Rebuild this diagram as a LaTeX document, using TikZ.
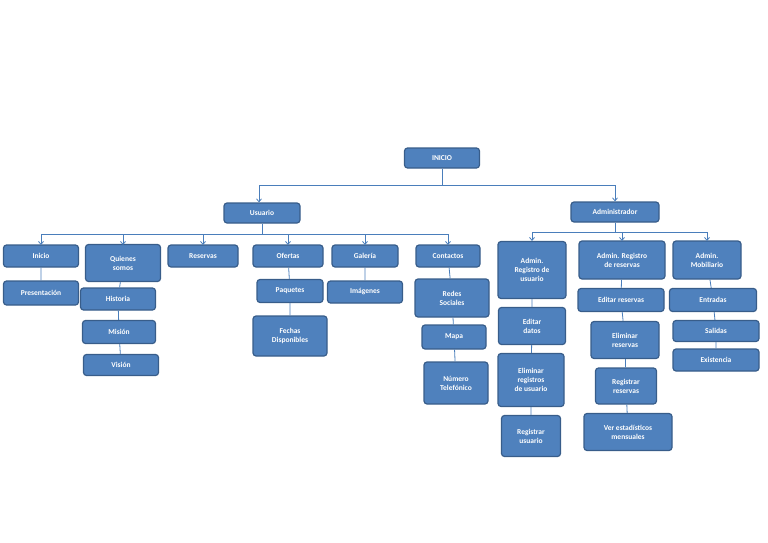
\documentclass[tikz,border=0pt]{standalone}
\usepackage{fontspec}
\setmainfont{Carlito}
\usetikzlibrary{arrows.meta}
\begin{document}
\begin{tikzpicture}[x=1pt,y=-1pt,
 bx/.style={draw=blue!30!black!70!cyan!60!black,fill={rgb,255:red,79;green,129;blue,189},draw={rgb,255:red,56;green,93;blue,138},line width=1.2pt,rounded corners=3pt,text=white,font=\fontsize{7.5}{9}\selectfont\bfseries,align=center,inner sep=1pt},
 ln/.style={draw={rgb,255:red,74;green,126;blue,187},line width=0.8pt},
 ar/.style={ln,-{Straight Barb[length=3pt,width=5pt]}}]
\useasboundingbox (0,0) rectangle (768,543);
\newcommand\bxn[6]{\node[bx,minimum width=#4,minimum height=#5] (#1) at (#2,#3) {#6};}
\bxn{ini}{442}{158}{75}{20}{INICIO}
\bxn{usu}{262}{213}{76}{20}{Usuario}
\bxn{adm}{615}{212}{88}{20}{Administrador}
\bxn{u1}{41}{256}{75}{22}{Inicio}
\bxn{u2}{123}{263}{75}{37}{Quienes\\somos}
\bxn{u3}{203}{256}{70}{22}{Reservas}
\bxn{u4}{288}{256}{70}{22}{Ofertas}
\bxn{u5}{365}{256}{66}{22}{Galería}
\bxn{u6}{448}{256}{64}{22}{Contactos}
\bxn{p1}{41}{293}{75}{24}{Presentación}
\bxn{q1}{118}{299}{75}{22}{Historia}
\bxn{q2}{119}{332}{73}{23}{Misión}
\bxn{q3}{121}{365}{75}{21}{Visión}
\bxn{o1}{290}{291}{66}{23}{Paquetes}
\bxn{o2}{290}{336}{74}{40}{Fechas\\Disponibles}
\bxn{g1}{365}{292}{75}{22}{Imágenes}
\bxn{c1}{452}{298}{74}{38}{Redes\\Sociales}
\bxn{c2}{454}{337}{64}{24}{Mapa}
\bxn{c3}{456}{383}{64}{42}{Número\\Telefónico}
\bxn{a1}{532}{270}{68}{57}{Admin.\\Registro de\\usuario}
\bxn{a2}{622}{260}{86}{38}{Admin. Registro\\de reservas}
\bxn{a3}{707}{260}{68}{38}{Admin.\\Mobiliario}
\bxn{a11}{532}{326}{67}{37}{Editar\\datos}
\bxn{a12}{531}{380}{66}{53}{Eliminar\\registros\\de usuario}
\bxn{a13}{531}{436}{59}{41}{Registrar\\usuario}
\bxn{a21}{621}{300}{86}{23}{Editar reservas}
\bxn{a22}{625}{340}{68}{37}{Eliminar\\reservas}
\bxn{a23}{626}{386}{61}{36}{Registrar\\reservas}
\bxn{a24}{628}{432}{88}{37}{Ver estadísticos\\mensuales}
\bxn{a31}{713}{300}{87}{23}{Entradas}
\bxn{a32}{716}{331}{86}{21}{Salidas}
\bxn{a33}{716}{360}{86}{22}{Existencia}
\coordinate (j0) at (442,185);
\draw[ln] (ini) -- (j0);
\draw[ar] (j0) -| ([xshift=-3pt]usu.north);
\draw[ar] (j0) -| (adm.north);
\coordinate (j1) at (262,234);
\draw[ln] (usu) -- (j1);
\foreach \n/\x in {u1/41,u2/123,u3/203,u4/288,u5/365,u6/448}{
 \draw[ar] (j1) -| (\x,245);}
\coordinate (j2) at (615,232);
\draw[ln] (adm) -- (j2);
\foreach \x in {532,622,707}{\draw[ar] (j2) -| (\x,241);}
\draw[ln] (u1)--(p1) (u2)--(q1)--(q2)--(q3) (u4)--(o1)--(o2) (u5)--(g1)
 (u6)--(c1)--(c2)--(c3) (a1)--(a11)--(a12)--(a13) (a2)--(a21)--(a22)--(a23)--(a24)
 (a3)--(a31)--(a32)--(a33);
\end{tikzpicture}
\end{document}
